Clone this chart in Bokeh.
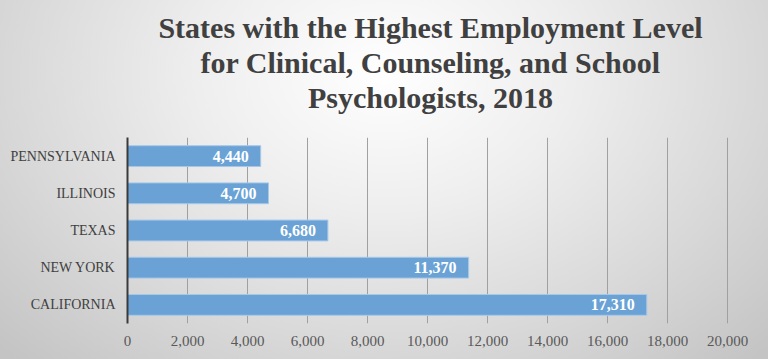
from bokeh.plotting import figure
from bokeh.models import (ColumnDataSource, FactorRange, Range1d, LabelSet, Title,
                          NumeralTickFormatter, SingleIntervalTicker)
from bokeh.embed import file_html
from bokeh.resources import INLINE

states = ["CALIFORNIA", "NEW YORK", "TEXAS", "ILLINOIS", "PENNSYLVANIA"]
employment = [17310, 11370, 6680, 4700, 4440]
title_lines = ["States with the Highest Employment Level",
               "for Clinical, Counseling, and School",
               "Psychologists, 2018"]

src = ColumnDataSource(dict(state=states, value=employment,
                            label=[f"{v:,}" for v in employment]))

FONT = "Liberation Serif"

p = figure(width=768, height=359, output_backend="svg", toolbar_location=None,
           title=None,
           y_range=FactorRange(factors=states, range_padding=0),
           x_range=Range1d(0, 20200),
           min_border_left=127, min_border_right=35, min_border_bottom=36,
           min_border_top=10)

p.styles = {"background": "radial-gradient(ellipse 70% 110% at 50% 20%, #ffffff 0%, #eeeeee 35%, #d8d8d8 70%, #c4c4c4 100%)"}
p.background_fill_alpha = 0
p.border_fill_alpha = 0
p.outline_line_color = None

p.hbar(y="state", right="value", left=0, height=0.56, source=src,
       fill_color="#6aa2d6", line_color="#a8c8e8", line_width=1)

labels = LabelSet(x="value", y="state", text="label", source=src,
                  x_offset=-12, text_align="right", text_baseline="middle",
                  text_color="white", text_font=FONT, text_font_style="bold",
                  text_font_size="16px")
p.add_layout(labels)

# spacer between title block and plot frame
p.add_layout(Title(text=" ", text_font_size="20px", standoff=0), "above")
for txt in reversed(title_lines):
    p.add_layout(Title(text=txt, align="center", text_font=FONT,
                       text_font_size="30px", text_font_style="bold",
                       text_color="#404040", standoff=0), "above")
# spacer above the title block
p.add_layout(Title(text=" ", text_font_size="6px", standoff=0), "above")

p.xaxis.ticker = SingleIntervalTicker(interval=2000)
p.xaxis.formatter = NumeralTickFormatter(format="0,0")
p.xaxis.axis_line_color = None
p.xaxis.major_tick_line_color = None
p.xaxis.minor_tick_line_color = None
p.xaxis.major_tick_out = 0
p.xaxis.major_label_standoff = 8
p.xaxis.major_label_text_font = FONT
p.xaxis.major_label_text_font_size = "15px"
p.xaxis.major_label_text_color = "#595959"

p.yaxis.axis_line_color = "#3a3a3a"
p.yaxis.axis_line_width = 2
p.yaxis.major_tick_line_color = None
p.yaxis.minor_tick_line_color = None
p.yaxis.major_tick_out = 0
p.yaxis.major_label_standoff = 12
p.yaxis.major_label_text_font = FONT
p.yaxis.major_label_text_font_size = "14px"
p.yaxis.major_label_text_color = "#404040"

p.xgrid.grid_line_color = "#a0a0a0"
p.xgrid.grid_line_width = 1
p.ygrid.grid_line_color = None

open("out.html", "w").write(file_html(p, INLINE))
